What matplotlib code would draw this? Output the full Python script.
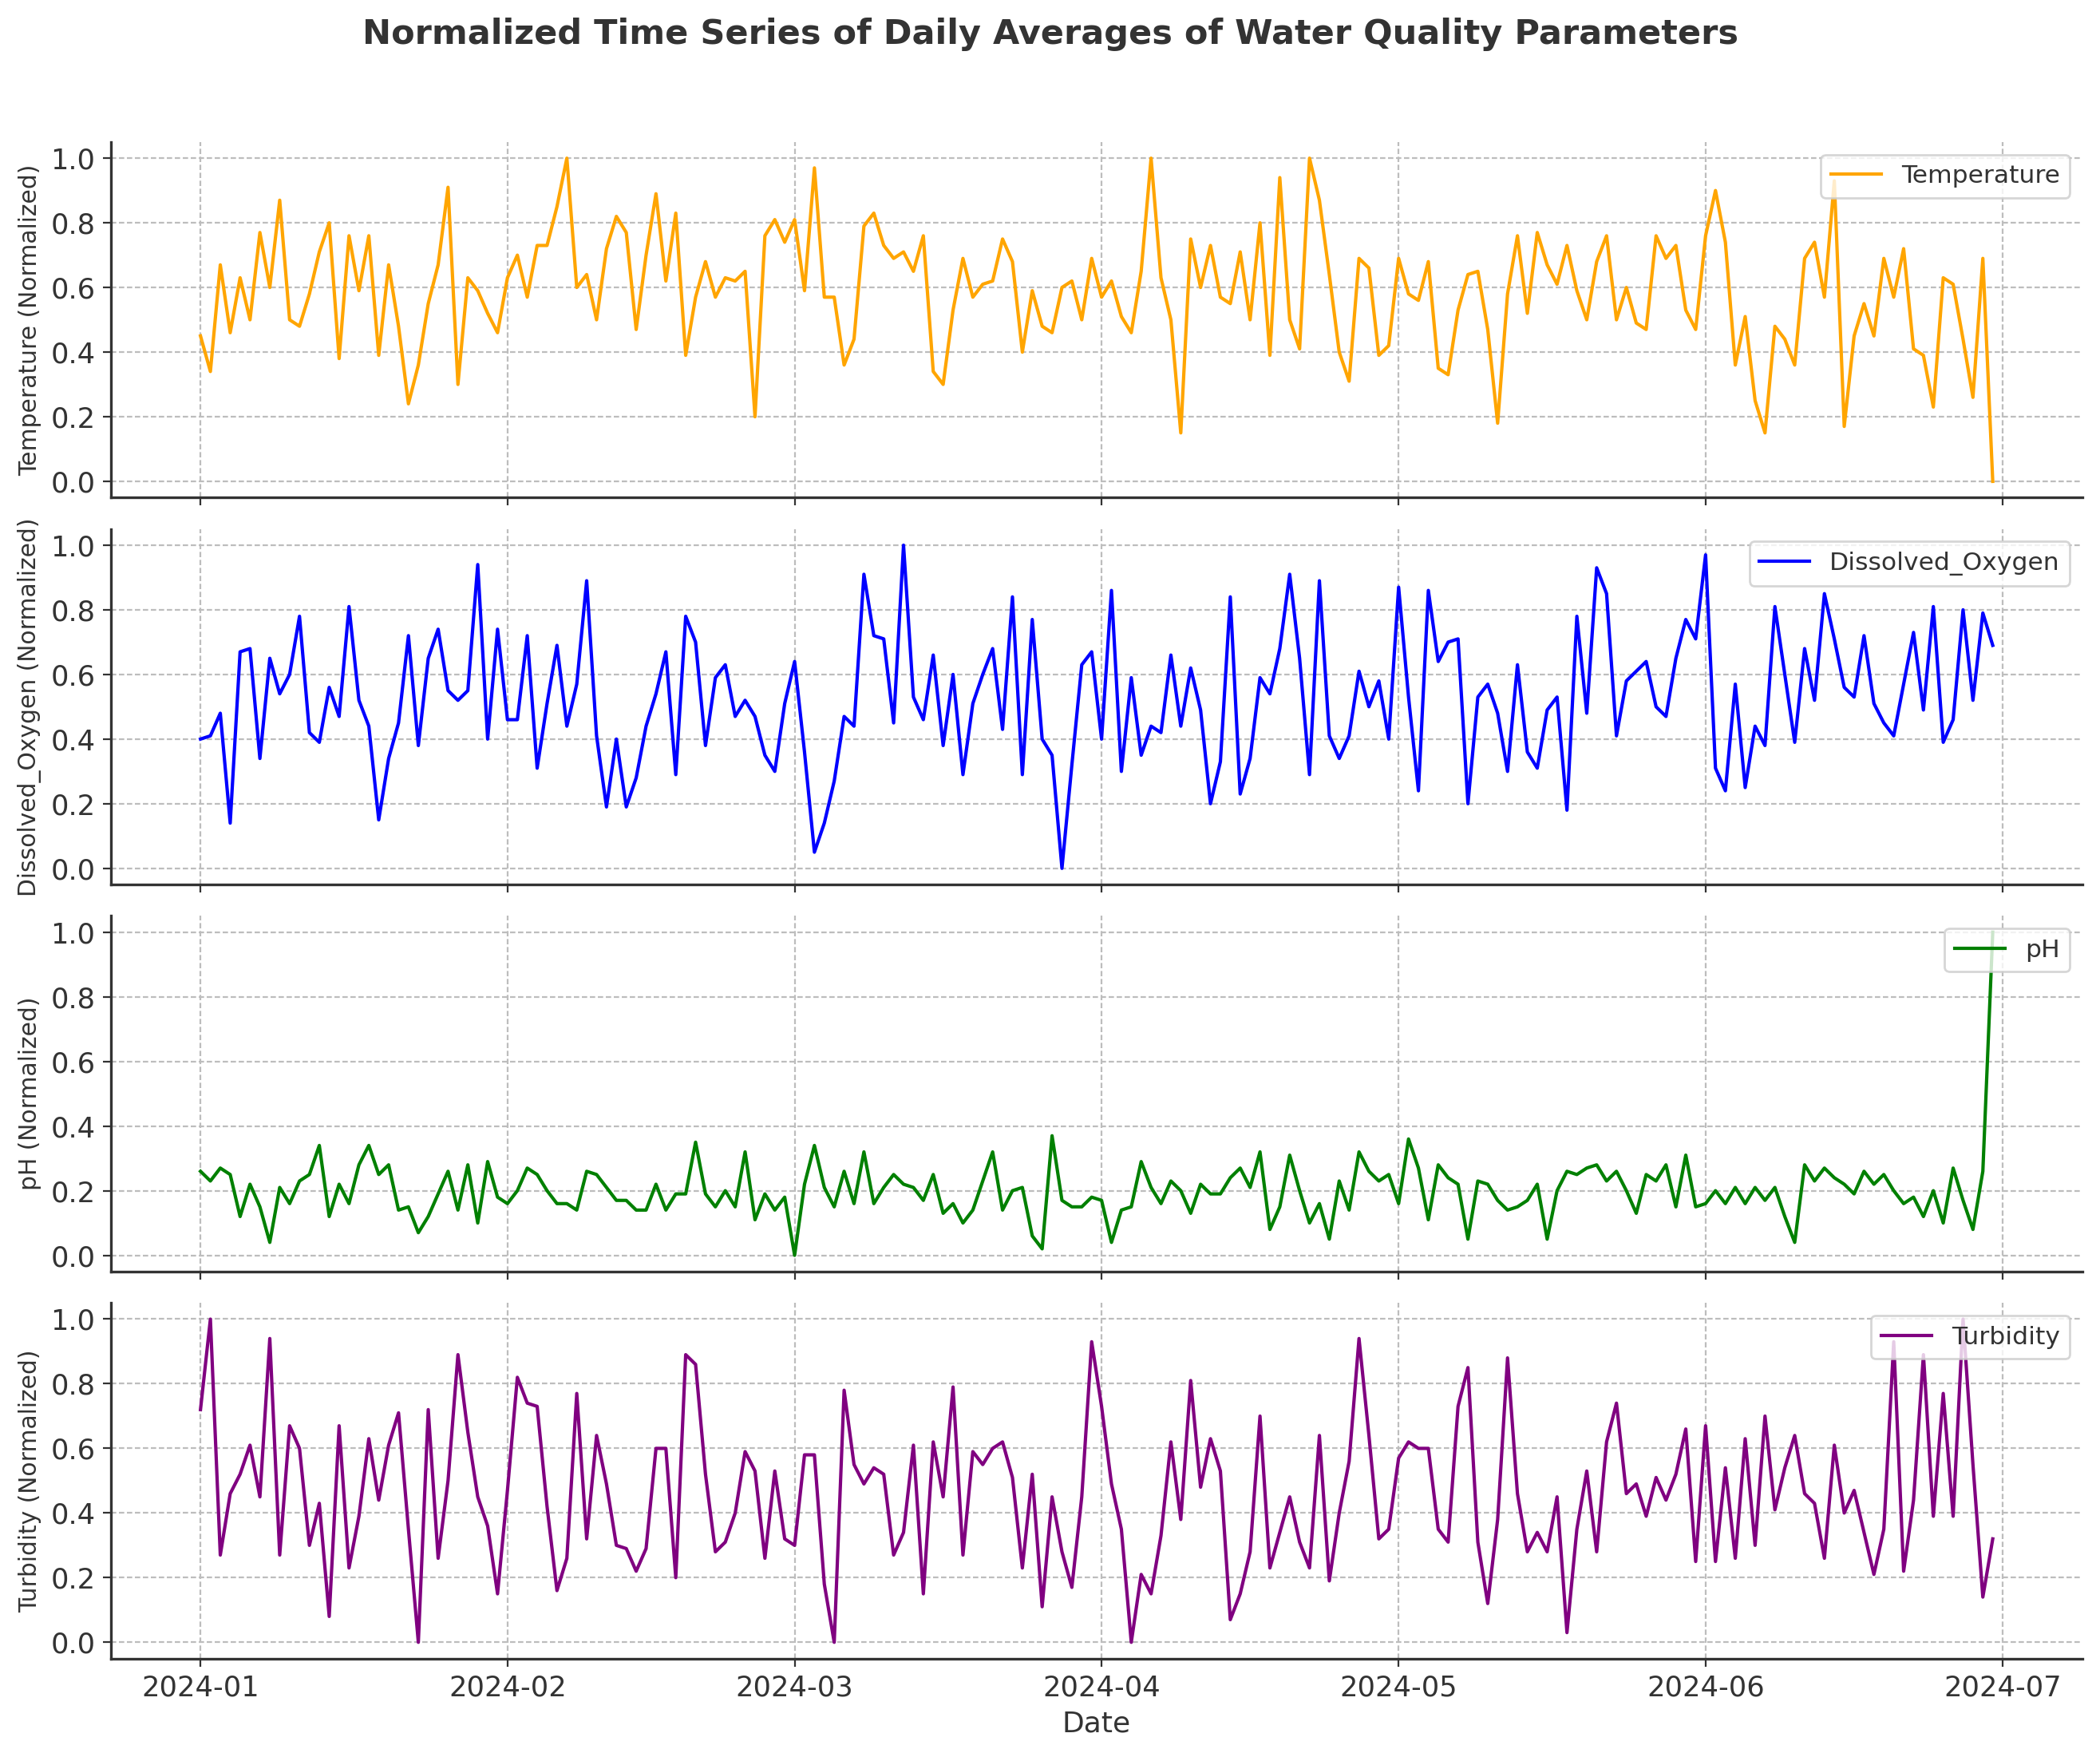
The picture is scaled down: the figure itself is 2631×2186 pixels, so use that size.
import numpy as np
import pandas as pd
import matplotlib
matplotlib.use('Agg')
import matplotlib.pyplot as plt

# daily dates, Jan 1 - Jun 30 2024
dates = pd.date_range('2024-01-01', periods=182, freq='D')

temperature = [
    0.45, 0.34, 0.67, 0.46, 0.63, 0.50, 0.77, 0.60, 0.87, 0.50,
    0.48, 0.58, 0.71, 0.80, 0.38, 0.76, 0.59, 0.76, 0.39, 0.67,
    0.48, 0.24, 0.36, 0.55, 0.67, 0.91, 0.30, 0.63, 0.59, 0.52,
    0.46, 0.63, 0.70, 0.57, 0.73, 0.73, 0.85, 1.00, 0.60, 0.64,
    0.50, 0.72, 0.82, 0.77, 0.47, 0.70, 0.89, 0.62, 0.83, 0.39,
    0.57, 0.68, 0.57, 0.63, 0.62, 0.65, 0.20, 0.76, 0.81, 0.74,
    0.81, 0.59, 0.97, 0.57, 0.57, 0.36, 0.44, 0.79, 0.83, 0.73,
    0.69, 0.71, 0.65, 0.76, 0.34, 0.30, 0.53, 0.69, 0.57, 0.61,
    0.62, 0.75, 0.68, 0.40, 0.59, 0.48, 0.46, 0.60, 0.62, 0.50,
    0.69, 0.57, 0.62, 0.51, 0.46, 0.65, 1.00, 0.63, 0.50, 0.15,
    0.75, 0.60, 0.73, 0.57, 0.55, 0.71, 0.50, 0.80, 0.39, 0.94,
    0.50, 0.41, 1.00, 0.87, 0.64, 0.40, 0.31, 0.69, 0.66, 0.39,
    0.42, 0.69, 0.58, 0.56, 0.68, 0.35, 0.33, 0.53, 0.64, 0.65,
    0.47, 0.18, 0.58, 0.76, 0.52, 0.77, 0.67, 0.61, 0.73, 0.59,
    0.50, 0.68, 0.76, 0.50, 0.60, 0.49, 0.47, 0.76, 0.69, 0.73,
    0.53, 0.47, 0.76, 0.90, 0.74, 0.36, 0.51, 0.25, 0.15, 0.48,
    0.44, 0.36, 0.69, 0.74, 0.57, 0.93, 0.17, 0.45, 0.55, 0.45,
    0.69, 0.57, 0.72, 0.41, 0.39, 0.23, 0.63, 0.61, 0.44, 0.26,
    0.69, 0.00,
]

dissolved_oxygen = [
    0.40, 0.41, 0.48, 0.14, 0.67, 0.68, 0.34, 0.65, 0.54, 0.60,
    0.78, 0.42, 0.39, 0.56, 0.47, 0.81, 0.52, 0.44, 0.15, 0.34,
    0.45, 0.72, 0.38, 0.65, 0.74, 0.55, 0.52, 0.55, 0.94, 0.40,
    0.74, 0.46, 0.46, 0.72, 0.31, 0.51, 0.69, 0.44, 0.57, 0.89,
    0.41, 0.19, 0.40, 0.19, 0.28, 0.44, 0.54, 0.67, 0.29, 0.78,
    0.70, 0.38, 0.59, 0.63, 0.47, 0.52, 0.47, 0.35, 0.30, 0.51,
    0.64, 0.36, 0.05, 0.14, 0.27, 0.47, 0.44, 0.91, 0.72, 0.71,
    0.45, 1.00, 0.53, 0.46, 0.66, 0.38, 0.60, 0.29, 0.51, 0.60,
    0.68, 0.43, 0.84, 0.29, 0.77, 0.40, 0.35, 0.00, 0.32, 0.63,
    0.67, 0.40, 0.86, 0.30, 0.59, 0.35, 0.44, 0.42, 0.66, 0.44,
    0.62, 0.49, 0.20, 0.33, 0.84, 0.23, 0.34, 0.59, 0.54, 0.68,
    0.91, 0.65, 0.29, 0.89, 0.41, 0.34, 0.41, 0.61, 0.50, 0.58,
    0.40, 0.87, 0.53, 0.24, 0.86, 0.64, 0.70, 0.71, 0.20, 0.53,
    0.57, 0.48, 0.30, 0.63, 0.36, 0.31, 0.49, 0.53, 0.18, 0.78,
    0.48, 0.93, 0.85, 0.41, 0.58, 0.61, 0.64, 0.50, 0.47, 0.65,
    0.77, 0.71, 0.97, 0.31, 0.24, 0.57, 0.25, 0.44, 0.38, 0.81,
    0.60, 0.39, 0.68, 0.52, 0.85, 0.71, 0.56, 0.53, 0.72, 0.51,
    0.45, 0.41, 0.57, 0.73, 0.49, 0.81, 0.39, 0.46, 0.80, 0.52,
    0.79, 0.69,
]

ph = [
    0.26, 0.23, 0.27, 0.25, 0.12, 0.22, 0.15, 0.04, 0.21, 0.16,
    0.23, 0.25, 0.34, 0.12, 0.22, 0.16, 0.28, 0.34, 0.25, 0.28,
    0.14, 0.15, 0.07, 0.12, 0.19, 0.26, 0.14, 0.28, 0.10, 0.29,
    0.18, 0.16, 0.20, 0.27, 0.25, 0.20, 0.16, 0.16, 0.14, 0.26,
    0.25, 0.21, 0.17, 0.17, 0.14, 0.14, 0.22, 0.14, 0.19, 0.19,
    0.35, 0.19, 0.15, 0.20, 0.15, 0.32, 0.11, 0.19, 0.14, 0.18,
    0.00, 0.22, 0.34, 0.21, 0.15, 0.26, 0.16, 0.32, 0.16, 0.21,
    0.25, 0.22, 0.21, 0.17, 0.25, 0.13, 0.16, 0.10, 0.14, 0.23,
    0.32, 0.14, 0.20, 0.21, 0.06, 0.02, 0.37, 0.17, 0.15, 0.15,
    0.18, 0.17, 0.04, 0.14, 0.15, 0.29, 0.21, 0.16, 0.23, 0.20,
    0.13, 0.22, 0.19, 0.19, 0.24, 0.27, 0.21, 0.32, 0.08, 0.15,
    0.31, 0.20, 0.10, 0.16, 0.05, 0.23, 0.14, 0.32, 0.26, 0.23,
    0.25, 0.16, 0.36, 0.27, 0.11, 0.28, 0.24, 0.22, 0.05, 0.23,
    0.22, 0.17, 0.14, 0.15, 0.17, 0.22, 0.05, 0.20, 0.26, 0.25,
    0.27, 0.28, 0.23, 0.26, 0.20, 0.13, 0.25, 0.23, 0.28, 0.15,
    0.31, 0.15, 0.16, 0.20, 0.16, 0.21, 0.16, 0.21, 0.17, 0.21,
    0.12, 0.04, 0.28, 0.23, 0.27, 0.24, 0.22, 0.19, 0.26, 0.22,
    0.25, 0.20, 0.16, 0.18, 0.12, 0.20, 0.10, 0.27, 0.17, 0.08,
    0.26, 1.00,
]

turbidity = [
    0.72, 1.00, 0.27, 0.46, 0.52, 0.61, 0.45, 0.94, 0.27, 0.67,
    0.60, 0.30, 0.43, 0.08, 0.67, 0.23, 0.39, 0.63, 0.44, 0.61,
    0.71, 0.35, 0.00, 0.72, 0.26, 0.50, 0.89, 0.65, 0.45, 0.36,
    0.15, 0.47, 0.82, 0.74, 0.73, 0.42, 0.16, 0.26, 0.77, 0.32,
    0.64, 0.49, 0.30, 0.29, 0.22, 0.29, 0.60, 0.60, 0.20, 0.89,
    0.86, 0.52, 0.28, 0.31, 0.40, 0.59, 0.53, 0.26, 0.53, 0.32,
    0.30, 0.58, 0.58, 0.18, 0.00, 0.78, 0.55, 0.49, 0.54, 0.52,
    0.27, 0.34, 0.61, 0.15, 0.62, 0.45, 0.79, 0.27, 0.59, 0.55,
    0.60, 0.62, 0.51, 0.23, 0.52, 0.11, 0.45, 0.28, 0.17, 0.45,
    0.93, 0.73, 0.49, 0.35, 0.00, 0.21, 0.15, 0.33, 0.62, 0.38,
    0.81, 0.48, 0.63, 0.53, 0.07, 0.15, 0.28, 0.70, 0.23, 0.34,
    0.45, 0.31, 0.23, 0.64, 0.19, 0.40, 0.56, 0.94, 0.64, 0.32,
    0.35, 0.57, 0.62, 0.60, 0.60, 0.35, 0.31, 0.73, 0.85, 0.31,
    0.12, 0.38, 0.88, 0.46, 0.28, 0.34, 0.28, 0.45, 0.03, 0.35,
    0.53, 0.28, 0.62, 0.74, 0.46, 0.49, 0.39, 0.51, 0.44, 0.52,
    0.66, 0.25, 0.67, 0.25, 0.54, 0.26, 0.63, 0.30, 0.70, 0.41,
    0.54, 0.64, 0.46, 0.43, 0.26, 0.61, 0.40, 0.47, 0.34, 0.21,
    0.35, 0.93, 0.22, 0.44, 0.89, 0.39, 0.77, 0.39, 1.00, 0.55,
    0.14, 0.32,
]

params = ['Temperature', 'Dissolved_Oxygen', 'pH', 'Turbidity']
series = [temperature, dissolved_oxygen, ph, turbidity]
colors = ['orange', 'blue', 'green', 'purple']

plt.rcParams['text.color'] = '#333333'
plt.rcParams['axes.labelcolor'] = '#333333'
plt.rcParams['xtick.color'] = '#333333'
plt.rcParams['ytick.color'] = '#333333'

fig, axes = plt.subplots(4, 1, figsize=(13.155, 10.93), dpi=200, sharex=True)
fig.subplots_adjust(left=0.0528, right=0.9916, top=0.9186, bottom=0.0496, hspace=0.0886)

for ax, name, values, color in zip(axes, params, series, colors):
    ax.plot(dates, values, color=color, label=name, linewidth=1.5)
    ax.set_ylabel(f'{name} (Normalized)', fontsize=10.7)
    ax.set_yticks(np.arange(0, 1.01, 0.2))
    ax.tick_params(axis='both', labelsize=12.7)
    ax.grid(True, linestyle=(0, (3, 1.5)), color='#bdbdbd', linewidth=0.8)
    ax.legend(loc='upper right', fontsize=11.3)
    ax.spines['top'].set_visible(False)
    ax.spines['right'].set_visible(False)
    ax.spines['left'].set_color('#333333')
    ax.spines['bottom'].set_color('#333333')
    ax.spines['left'].set_linewidth(1.2)
    ax.spines['bottom'].set_linewidth(1.2)

axes[-1].set_xlabel('Date', fontsize=13)
fig.suptitle('Normalized Time Series of Daily Averages of Water Quality Parameters',
             fontsize=15.5, fontweight='bold', y=0.99)

fig.savefig('out.png', dpi=200)
